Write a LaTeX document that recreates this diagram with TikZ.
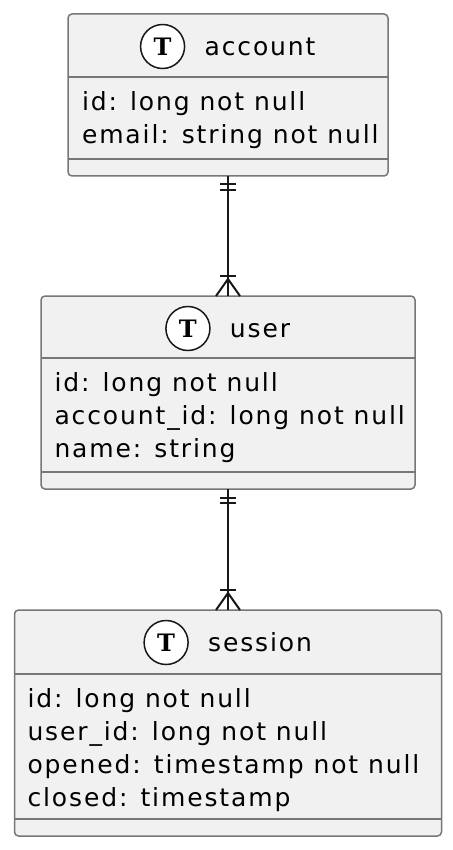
\documentclass[tikz,border=0pt]{standalone}
\usepackage{fontspec}
\setmainfont{DejaVu Sans}[LetterSpace=7.5]
\newfontfamily\iconfont{DejaVu Serif}
\usetikzlibrary{positioning,calc}
\definecolor{ERfill}{HTML}{F1F1F1}
\definecolor{ERline}{HTML}{181818}
\definecolor{ERgray}{HTML}{777777}
\tikzset{
  entity/.style={draw=ERgray,line width=1.5pt,fill=ERfill,rounded corners=4pt,
                 inner sep=0pt,outer sep=0pt},
  tname/.style={font=\fontsize{25}{33}\selectfont,inner sep=0pt,outer sep=0pt,
                text height=17.5pt,text depth=0pt},
  ticon/.style={circle,draw=ERline,line width=1.5pt,fill=white,minimum size=44pt,
                inner sep=0pt,outer sep=0pt,font=\iconfont\bfseries\fontsize{24}{24}\selectfont},
  attrs/.style={anchor=north west,align=left,inner sep=0pt,outer sep=0pt,
                font=\fontsize{25}{33}\selectfont},
  divider/.style={draw=ERgray,line width=1.5pt},
  link/.style={draw=ERline,line width=2pt}
}
\begin{document}
\begin{tikzpicture}[x=1pt,y=-1pt]
  \useasboundingbox (0,0) rectangle (452,850);
  % account
  \node[entity,minimum width=320pt,minimum height=162pt] (account) at (228,95) {};
  \node[tname] (accountname) at ($(account.north)+(32,32.5)$) {account};
  \node[ticon,left=20pt of accountname] (accounticon) {T};
  \draw[divider] ($(account.north west)+(0,63)$) -- ($(account.north east)+(0,63)$);
  \node[attrs] (accountattrs) at ($(account.north west)+(14,78)$)
    {id: long not null\\email: string not null};
  \draw[divider] ($(account.south west)+(0,-17)$) -- ($(account.south east)+(0,-17)$);
  % user
  \node[entity,minimum width=374pt,minimum height=193pt] (user) at (228,392.5) {};
  \node[tname] (username) at ($(user.north)+(32,32.5)$) {user};
  \node[ticon,left=20pt of username] (usericon) {T};
  \draw[divider] ($(user.north west)+(0,62)$) -- ($(user.north east)+(0,62)$);
  \node[attrs] (userattrs) at ($(user.north west)+(13.5,77)$)
    {id: long not null\\account\_id: long not null\\name: string};
  \draw[divider] ($(user.south west)+(0,-17)$) -- ($(user.south east)+(0,-17)$);
  % session
  \node[entity,minimum width=427pt,minimum height=226pt] (session) at (228,723) {};
  \node[tname] (sessionname) at ($(session.north)+(32,32.5)$) {session};
  \node[ticon,left=20pt of sessionname] (sessionicon) {T};
  \draw[divider] ($(session.north west)+(0,64)$) -- ($(session.north east)+(0,64)$);
  \node[attrs] (sessionattrs) at ($(session.north west)+(13,78)$)
    {id: long not null\\user\_id: long not null\\opened: timestamp not null\\closed: timestamp};
  \draw[divider] ($(session.south west)+(0,-17)$) -- ($(session.south east)+(0,-17)$);
  % account ||--|{ user
  \draw[link] (account.south) -- (user.north);
  \draw[link] ($(account.south)+(-8,8.5)$) -- ++(16,0);
  \draw[link] ($(account.south)+(-8,14)$) -- ++(16,0);
  \draw[link] ($(user.north)+(-8,-20)$) -- ++(16,0);
  \draw[link] ($(user.north)+(-12,0)$) -- ($(user.north)+(0,-17)$) -- ($(user.north)+(12,0)$);
  % user ||--|{ session
  \draw[link] (user.south) -- (session.north);
  \draw[link] ($(user.south)+(-8,8.5)$) -- ++(16,0);
  \draw[link] ($(user.south)+(-8,14)$) -- ++(16,0);
  \draw[link] ($(session.north)+(-8,-20)$) -- ++(16,0);
  \draw[link] ($(session.north)+(-12,0)$) -- ($(session.north)+(0,-17)$) -- ($(session.north)+(12,0)$);
\end{tikzpicture}
\end{document}
